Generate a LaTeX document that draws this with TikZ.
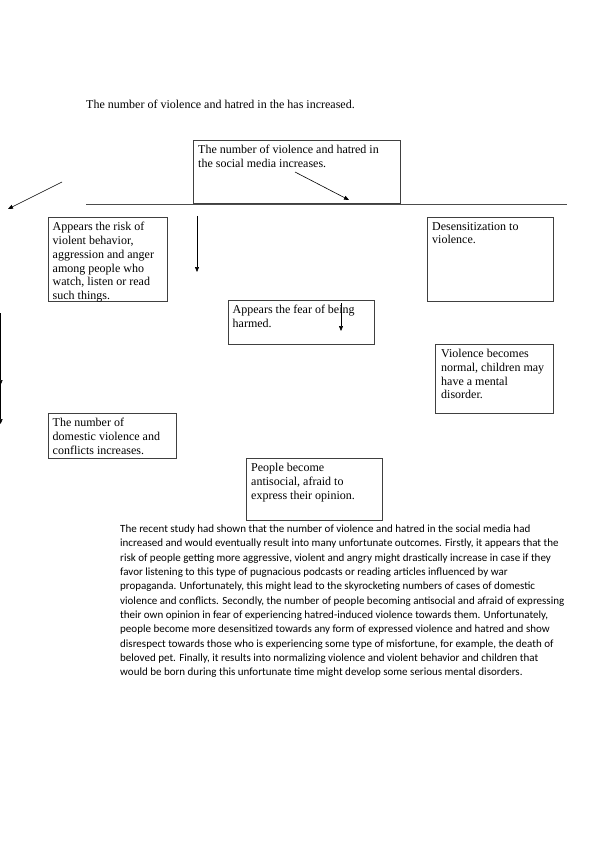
\documentclass[tikz,border=0pt]{standalone}
\usepackage{fontspec}
\setmainfont{Liberation Serif}
\newfontfamily\parafont{Carlito}
\usetikzlibrary{arrows.meta}
\tikzset{
  box/.style={draw=black!75, line width=0.8pt, anchor=north west, inner sep=0pt},
  boxtext/.style={anchor=north west, inner sep=0pt, align=left, font=\fontsize{12}{13.8}\selectfont},
  arr/.style={line width=0.6pt, -{Triangle[length=5pt,width=4pt]}},
}
\begin{document}
\begin{tikzpicture}[x=1pt,y=-1pt]
\useasboundingbox (0,0) rectangle (595,842);
\fill[white] (0,0) rectangle (595,842);

% title
\node[anchor=base west, inner sep=0pt, font=\fontsize{12}{13.8}\selectfont] (title) at (86,108.5) {The number of violence and hatred in the has increased.};

% horizontal line
\coordinate (hl1) at (86,204.5);
\coordinate (hl2) at (567,204.5);
\draw[line width=1pt, draw=black!70] (hl1) -- (hl2);

% top box
\node[box, minimum width=207pt, minimum height=63pt] (top) at (193,140) {};
\node[boxtext] (toptext) at ([shift={(5pt,-5pt)}]top.north west) {The number of violence and hatred in\\the social media increases.};

% box A
\node[box, minimum width=119pt, minimum height=84pt] (risk) at (48,217) {};
\node[boxtext] (risktext) at ([shift={(4.5pt,-5pt)}]risk.north west) {Appears the risk of\\violent behavior,\\aggression and anger\\among people who\\watch, listen or read\\such things.};

% desensitization
\node[box, minimum width=126pt, minimum height=84pt] (desens) at (427,217) {};
\node[boxtext] (desenstext) at ([shift={(5pt,-5pt)}]desens.north west) {Desensitization to\\violence.};

% fear
\node[box, minimum width=146pt, minimum height=44pt] (fear) at (228,300) {};
\node[boxtext] (feartext) at ([shift={(4.5pt,-5pt)}]fear.north west) {Appears the fear of being\\harmed.};

% violence normal
\node[box, minimum width=118pt, minimum height=69pt] (normal) at (435,344) {};
\node[boxtext] (normaltext) at ([shift={(6pt,-5pt)}]normal.north west) {Violence becomes\\normal, children may\\have a mental\\disorder.};

% domestic
\node[box, minimum width=128pt, minimum height=45pt] (domestic) at (48,413) {};
\node[boxtext] (domestictext) at ([shift={(4.5pt,-5pt)}]domestic.north west) {The number of\\domestic violence and\\conflicts increases.};

% antisocial
\node[box, minimum width=136pt, minimum height=62pt] (antisocial) at (246,458) {};
\node[boxtext] (antisocialtext) at ([shift={(5pt,-5pt)}]antisocial.north west) {People become\\antisocial, afraid to\\express their opinion.};

% arrows
\coordinate (a1s) at (295,172); \coordinate (a1e) at (349,200);
\draw[arr] (a1s) -- (a1e);
\coordinate (a2s) at (62,182); \coordinate (a2e) at (8,209);
\draw[arr] (a2s) -- (a2e);
\coordinate (a3s) at (197,216); \coordinate (a3e) at (197,272);
\draw[arr] (a3s) -- (a3e);
\coordinate (a4s) at (341,303); \coordinate (a4e) at (341,331);
\draw[arr] (a4s) -- (a4e);
\coordinate (a5s) at (0.6,313); \coordinate (a5e) at (0.6,385);
\draw[arr] (a5s) -- (a5e);
\coordinate (a6s) at (0.6,384); \coordinate (a6e) at (0.6,424);
\draw[arr] (a6s) -- (a6e);

% paragraph
\node[anchor=north west, inner sep=0pt, align=left, font=\parafont\fontsize{11}{14.35}\selectfont] (para) at (120,524.5) {The recent study had shown that the number of violence and hatred in the social media had\\
increased and would eventually result into many unfortunate outcomes. Firstly, it appears that the\\
risk of people getting more aggressive, violent and angry might drastically increase in case if they\\
favor listening to this type of pugnacious podcasts or reading articles influenced by war\\
propaganda. Unfortunately, this might lead to the skyrocketing numbers of cases of domestic\\
violence and conflicts. Secondly, the number of people becoming antisocial and afraid of expressing\\
their own opinion in fear of experiencing hatred-induced violence towards them. Unfortunately,\\
people become more desensitized towards any form of expressed violence and hatred and show\\
disrespect towards those who is experiencing some type of misfortune, for example, the death of\\
beloved pet. Finally, it results into normalizing violence and violent behavior and children that\\
would be born during this unfortunate time might develop some serious mental disorders.};
\end{tikzpicture}
\end{document}
